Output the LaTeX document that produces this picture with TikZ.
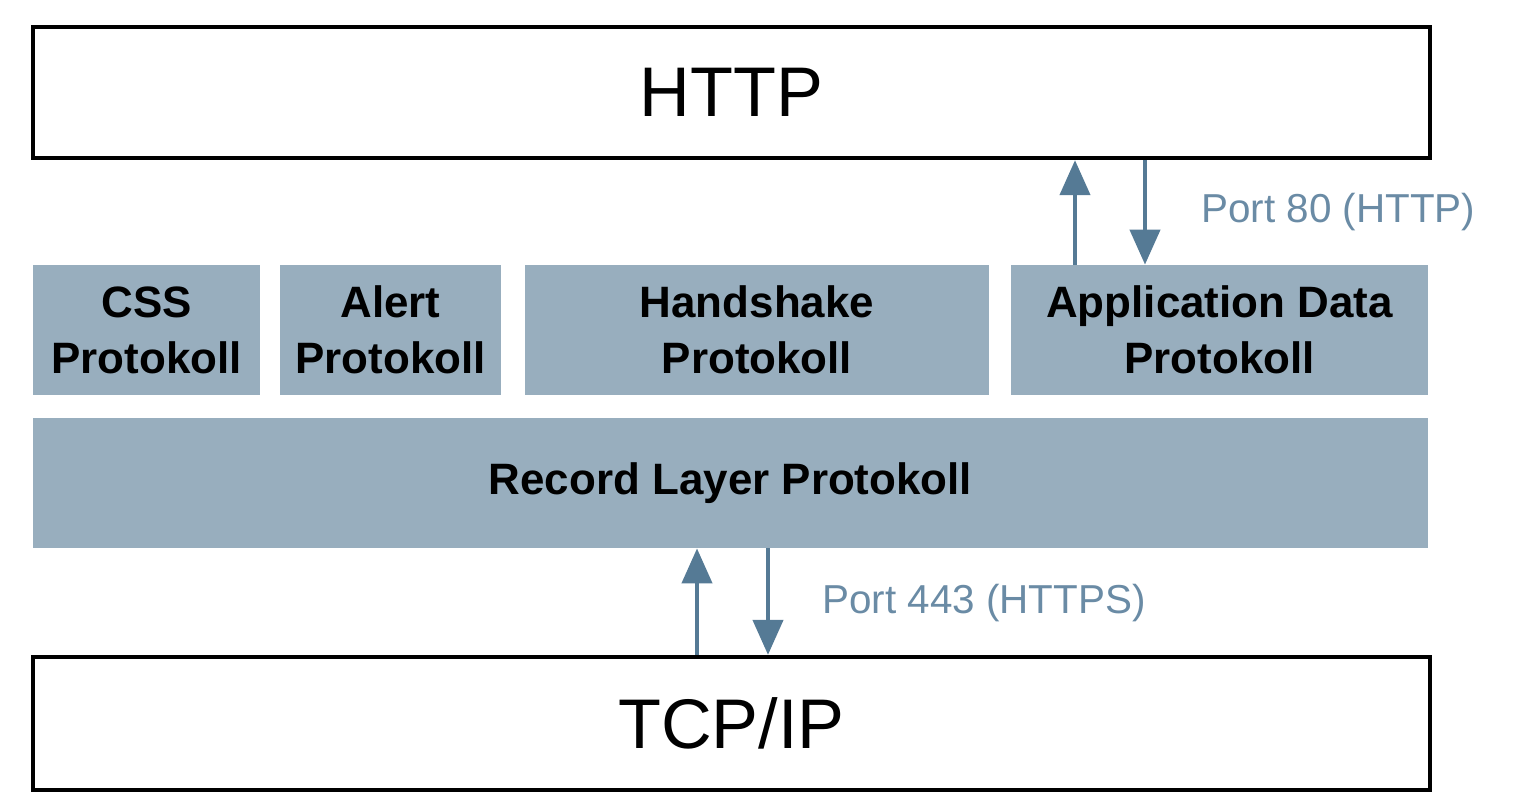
\documentclass[tikz,border=0pt]{standalone}
\usepackage{fontspec}
\setmainfont{Liberation Sans}
\usetikzlibrary{arrows.meta}
\definecolor{boxfill}{HTML}{98AEBE}
\definecolor{arrowc}{HTML}{557A95}
\definecolor{labelc}{HTML}{6A8BA5}
\begin{document}
\begin{tikzpicture}[x=0.02cm,y=-0.02cm,
  outer/.style={draw=black,line width=2.4pt,fill=white,inner sep=0pt,font=\fontsize{40}{44}\selectfont},
  proto/.style={fill=boxfill,inner sep=0pt,minimum height=2.6cm,align=center,font=\bfseries\fontsize{25}{32}\selectfont},
  arr/.style={draw=arrowc,line width=2.8pt,-{Triangle[width=17pt,length=20pt]}},
  portlbl/.style={text=labelc,anchor=west,inner sep=0pt,font=\fontsize{23}{26}\selectfont}]
\useasboundingbox (0,0) rectangle (1536,796);
\node[outer,minimum width=27.94cm,minimum height=2.62cm] (http) at (731.5,92.5) {HTTP};
\node[proto,minimum width=4.54cm] (css) at (146.5,330) {CSS\\Protokoll};
\node[proto,minimum width=4.42cm] (alert) at (390.5,330) {Alert\\Protokoll};
\node[proto,minimum width=9.28cm] (hs) at (757,330) {Handshake\\Protokoll};
\node[proto,minimum width=8.34cm] (app) at (1219.5,330) {Application Data\\Protokoll};
\node[proto,minimum width=27.9cm] (rec) at (730.5,483) {Record Layer Protokoll};
\node[outer,minimum width=27.94cm,minimum height=2.66cm] (tcp) at (731.5,723.5) {TCP/IP};
\draw[arr] (app.north -| 1075,0) -- (http.south -| 1075,0);
\draw[arr] (http.south -| 1145,0) -- (app.north -| 1145,0);
\draw[arr] (tcp.north -| 697,0) -- (rec.south -| 697,0);
\draw[arr] (rec.south -| 768,0) -- (tcp.north -| 768,0);
\node[portlbl] (p80) at (1201,212) {Port 80 (HTTP)};
\node[portlbl] (p443) at (822,603) {Port 443 (HTTPS)};
\end{tikzpicture}
\end{document}
